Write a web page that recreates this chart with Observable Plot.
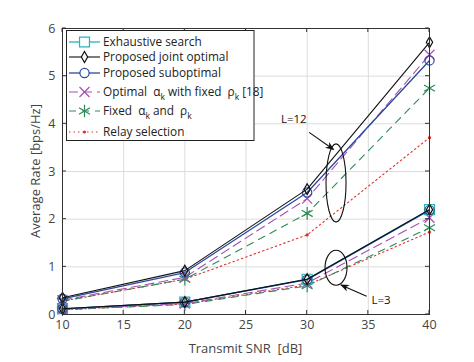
<!DOCTYPE html>
<html><head><meta charset="utf-8">
<script src="https://cdn.jsdelivr.net/npm/d3@7"></script>
<script src="https://cdn.jsdelivr.net/npm/@observablehq/plot@0.6"></script>
<style>
body{margin:0;background:#fff;}
#chart svg{font-family:"Open Sans",sans-serif;}
</style></head>
<body><div id="chart"></div>
<script>
const snr = [10, 20, 30, 40];
// L = 12
const joint12 = [0.35, 0.92, 2.63, 5.71];
const sub12   = [0.33, 0.88, 2.56, 5.33];
const opt12   = [0.30, 0.78, 2.43, 5.45];
const fixed12 = [0.28, 0.74, 2.12, 4.75];
const relay12 = [0.28, 0.74, 1.67, 3.71];
// L = 3
const exh3   = [0.12, 0.26, 0.74, 2.20];
const joint3 = [0.12, 0.26, 0.74, 2.20];
const sub3   = [0.12, 0.26, 0.73, 2.19];
const opt3   = [0.11, 0.23, 0.66, 2.03];
const fixed3 = [0.10, 0.21, 0.60, 1.82];
const relay3 = [0.10, 0.22, 0.62, 1.73];
const xTicks = [10, 15, 20, 25, 30, 35, 40];
const yTicks = [0, 1, 2, 3, 4, 5, 6];
const legendNames = ["Exhaustive search", "Proposed joint optimal", "Proposed suboptimal", "Optimal αk with fixed ρk [18]", "Fixed αk and ρk", "Relay selection"];

const styles = {
  exh:   {stroke: "#2bb3b3", dash: null, symbol: "square", r: 5.6, fill: "none", sw: 1.3},
  joint: {stroke: "#111111", dash: null, symbol: "diamond", r: 3.3, fill: "none", sw: 1.1},
  sub:   {stroke: "#2c4a9c", dash: null, symbol: "circle", r: 4.6, fill: "none", sw: 1.3},
  opt:   {stroke: "#a64fb5", dash: "9,5", symbol: "times", r: 4.6, fill: "none", sw: 1.1},
  fixed: {stroke: "#2e8b57", dash: "7,6", symbol: "asterisk", r: 6, fill: "none", sw: 1.1},
  relay: {stroke: "#e0302c", dash: "1.5,3", symbol: "circle", r: 1.6, fill: "#e0302c", sw: 1.1}
};
const toRows = (arr) => snr.map((x, i) => ({x, y: arr[i]}));
const series = [
  ["relay", relay12], ["relay", relay3],
  ["fixed", fixed12], ["fixed", fixed3],
  ["opt", opt12], ["opt", opt3],
  ["exh", exh3],
  ["sub", sub12], ["sub", sub3],
  ["joint", joint12], ["joint", joint3]
];
const marks = [
  Plot.gridX(xTicks, {stroke: "#dcdcdc", strokeOpacity: 1}),
  Plot.gridY(yTicks, {stroke: "#dcdcdc", strokeOpacity: 1})
];
for (const [k, arr] of series) {
  const s = styles[k];
  const d = toRows(arr);
  const lineOpts = {x: "x", y: "y", stroke: s.stroke, strokeWidth: s.sw};
  if (s.dash) lineOpts.strokeDasharray = s.dash;
  marks.push(Plot.line(d, lineOpts));
  marks.push(Plot.dot(d, {x: "x", y: "y", symbol: s.symbol, r: s.r, stroke: s.fill === "none" ? s.stroke : "none", fill: s.fill, strokeWidth: 1.2}));
}
marks.push(Plot.frame({stroke: "#333", strokeWidth: 1}));
marks.push(Plot.axisX(xTicks, {tickSize: 0, tickPadding: 6, fontSize: 12.5, fill: "#444", label: null}));
marks.push(Plot.axisY(yTicks, {tickSize: 0, tickPadding: 7, fontSize: 12.5, fill: "#444", label: null}));

const chart = Plot.plot({
  width: 474, height: 362,
  marginLeft: 62, marginRight: 45, marginTop: 28, marginBottom: 48,
  x: {type: "linear", domain: [10, 40]},
  y: {type: "linear", domain: [0, 6]},
  style: {fontFamily: "'Open Sans', sans-serif", background: "#fff"},
  marks
});
document.getElementById("chart").appendChild(chart);

const svg = d3.select(chart);
const X = chart.scale("x").apply, Y = chart.scale("y").apply;
const g = svg.append("g").attr("font-family", "'Open Sans', sans-serif").attr("text-anchor", "start");

// inner ticks
for (const t of xTicks) {
  g.append("line").attr("x1", X(t)).attr("x2", X(t)).attr("y1", Y(0)).attr("y2", Y(0) - 4).attr("stroke", "#333");
  g.append("line").attr("x1", X(t)).attr("x2", X(t)).attr("y1", Y(6)).attr("y2", Y(6) + 4).attr("stroke", "#333");
}
for (const t of yTicks) {
  g.append("line").attr("x1", X(10)).attr("x2", X(10) + 4).attr("y1", Y(t)).attr("y2", Y(t)).attr("stroke", "#333");
  g.append("line").attr("x1", X(40)).attr("x2", X(40) - 4).attr("y1", Y(t)).attr("y2", Y(t)).attr("stroke", "#333");
}

// axis titles
g.append("text").attr("x", (X(10) + X(40)) / 2).attr("y", 353).attr("text-anchor", "middle")
  .attr("font-size", 13).attr("fill", "#444").text("Transmit SNR  [dB]");
g.append("text").attr("transform", `translate(40,${(Y(0) + Y(6)) / 2}) rotate(-90)`).attr("text-anchor", "middle")
  .attr("font-size", 13).attr("fill", "#444").text("Average Rate [bps/Hz]");

// ellipses
const ell = (cx, cy, rx, ry) => g.append("ellipse").attr("cx", X(cx)).attr("cy", Y(cy)).attr("rx", rx).attr("ry", ry)
  .attr("fill", "none").attr("stroke", "#111").attr("stroke-width", 1.1);
ell(32.4, 2.75, 10, 39);
ell(32.4, 0.97, 11, 17.5);
// arrows
svg.append("defs").append("marker").attr("id", "ah").attr("viewBox", "0 0 10 10").attr("refX", 9).attr("refY", 5)
  .attr("markerWidth", 9).attr("markerHeight", 9).attr("markerUnits", "userSpaceOnUse").attr("orient", "auto")
  .append("path").attr("d", "M0,1 L10,5 L0,9 L3,5 Z").attr("fill", "#111");
const arrow = (x1, y1, x2, y2) => g.append("line").attr("x1", X(x1)).attr("y1", Y(y1)).attr("x2", X(x2)).attr("y2", Y(y2))
  .attr("stroke", "#111").attr("stroke-width", 1.1).attr("marker-end", "url(#ah)");
arrow(30.2, 3.81, 32.2, 3.45);
arrow(34.9, 0.37, 32.8, 0.61);
g.append("text").attr("x", X(27.9)).attr("y", Y(4.0)).attr("font-size", 11.5).attr("fill", "#111").text("L=12");
g.append("text").attr("x", X(35.3)).attr("y", Y(0.2)).attr("font-size", 11.5).attr("fill", "#111").text("L=3");

// legend
const lg = g.append("g");
lg.append("rect").attr("x", 66.5).attr("y", 30.5).attr("width", 187.5).attr("height", 110).attr("fill", "#fff").attr("stroke", "#222");
const keys = ["exh", "joint", "sub", "opt", "fixed", "relay"];
const rowY = [42, 57, 73, 92, 111, 132];
const symMap = {square: d3.symbolSquare, diamond: d3.symbolDiamond, circle: d3.symbolCircle, times: d3.symbolTimes, asterisk: d3.symbolAsterisk};
keys.forEach((k, i) => {
  const s = styles[k];
  const y = rowY[i];
  const ln = lg.append("line").attr("x1", 69).attr("x2", 100).attr("y1", y).attr("y2", y).attr("stroke", s.stroke)
    .attr("stroke-width", s.sw);
  if (s.dash) ln.attr("stroke-dasharray", s.dash);
  lg.append("path").attr("transform", `translate(84.5,${y})`)
    .attr("d", d3.symbol(symMap[s.symbol], s.r * s.r * Math.PI)())
    .attr("fill", s.fill === "none" ? "#fff" : s.fill).attr("stroke", s.fill === "none" ? s.stroke : "none").attr("stroke-width", 1.2);
  const t = lg.append("text").attr("x", 103).attr("y", y + 4).attr("font-size", 11.8).attr("fill", "#222");
  if (i === 3) {
    t.append("tspan").text("Optimal  α");
    t.append("tspan").attr("font-size", 8.5).attr("dy", 4).text("k");
    t.append("tspan").attr("dy", -4).text(" with fixed  ρ");
    t.append("tspan").attr("font-size", 8.5).attr("dy", 4).text("k");
    t.append("tspan").attr("dy", -4).text(" [18]");
  } else if (i === 4) {
    t.append("tspan").text("Fixed  α");
    t.append("tspan").attr("font-size", 8.5).attr("dy", 4).text("k");
    t.append("tspan").attr("dy", -4).text(" and  ρ");
    t.append("tspan").attr("font-size", 8.5).attr("dy", 4).text("k");
  } else {
    t.text(legendNames[i]);
  }
});
</script></body></html>
